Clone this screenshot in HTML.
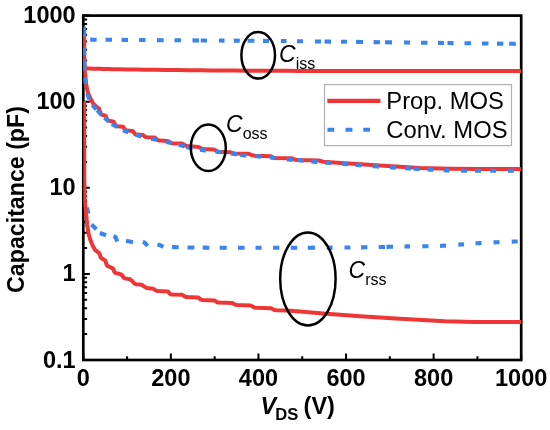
<!DOCTYPE html><html><head><meta charset="utf-8"><title>Capacitance vs VDS</title><style>html,body{margin:0;padding:0;background:#fff;overflow:hidden;}svg{display:block;}text{font-family:"Liberation Sans",Arial,Helvetica,sans-serif;fill:#000;}</style></head><body>
<svg width="550" height="430" viewBox="0 0 550 430">
<rect width="550" height="430" fill="#fff"/>
<defs><clipPath id="pc"><rect x="83.30" y="15.60" width="437.90" height="344.40"/></clipPath></defs>
<rect x="83.30" y="15.60" width="437.90" height="344.40" fill="none" stroke="#000" stroke-width="2.7"/>
<path d="M83.30,15.60h6.5 M83.30,101.70h6.5 M83.30,187.80h6.5 M83.30,273.90h6.5 M83.30,360.00h6.5 M83.30,334.08h3.8 M83.30,318.92h3.8 M83.30,308.16h3.8 M83.30,299.82h3.8 M83.30,293.00h3.8 M83.30,287.24h3.8 M83.30,282.24h3.8 M83.30,277.84h3.8 M83.30,247.98h3.8 M83.30,232.82h3.8 M83.30,222.06h3.8 M83.30,213.72h3.8 M83.30,206.90h3.8 M83.30,201.14h3.8 M83.30,196.14h3.8 M83.30,191.74h3.8 M83.30,161.88h3.8 M83.30,146.72h3.8 M83.30,135.96h3.8 M83.30,127.62h3.8 M83.30,120.80h3.8 M83.30,115.04h3.8 M83.30,110.04h3.8 M83.30,105.64h3.8 M83.30,75.78h3.8 M83.30,60.62h3.8 M83.30,49.86h3.8 M83.30,41.52h3.8 M83.30,34.70h3.8 M83.30,28.94h3.8 M83.30,23.94h3.8 M83.30,19.54h3.8 M83.30,360.00v-6.5 M170.88,360.00v-6.5 M258.46,360.00v-6.5 M346.04,360.00v-6.5 M433.62,360.00v-6.5 M521.20,360.00v-6.5 M127.09,360.00v-3.8 M214.67,360.00v-3.8 M302.25,360.00v-3.8 M389.83,360.00v-3.8 M477.41,360.00v-3.8" stroke="#000" stroke-width="2" fill="none"/>
<g clip-path="url(#pc)" fill="none" stroke-linejoin="round">
<path d="M84.10,34.00 84.10,36.13 84.10,39.11 84.09,42.66 84.09,46.54 84.09,50.47 84.11,54.20 84.14,57.46 84.20,60.00 84.27,61.86 84.34,63.31 84.43,64.42 84.53,65.26 84.65,65.91 84.80,66.44 84.98,66.91 85.20,67.40 85.26,67.83 85.09,68.10 84.83,68.25 84.66,68.31 84.73,68.31 85.20,68.31 86.24,68.32 88.00,68.40 90.27,68.52 92.82,68.63 95.75,68.74 99.17,68.85 103.20,68.96 107.94,69.07 113.50,69.18 120.00,69.30 127.57,69.42 136.16,69.55 145.61,69.69 155.75,69.82 166.43,69.95 177.47,70.08 188.71,70.19 200.00,70.30 211.41,70.40 223.12,70.49 235.16,70.58 247.50,70.66 260.16,70.73 273.12,70.79 286.41,70.85 300.00,70.90 314.17,70.94 329.03,70.96 344.35,70.98 359.91,70.99 375.48,70.99 390.83,70.99 405.75,71.00 420.00,71.00 434.27,71.00 449.05,71.01 463.88,71.01 478.25,71.01 491.68,71.00 503.70,71.00 513.80,71.00 521.50,71.00" stroke="#ef3636" stroke-width="4.00"/>
<path d="M84.10,34.00 84.20,62.00 84.60,70.00 85.30,76.00 86.20,84.00 87.60,92.00 89.70,96.90 91.70,100.90 93.70,104.20 96.60,107.00 99.00,108.60 100.60,113.60 102.20,114.80 105.50,115.60 107.30,119.50 108.70,120.60 113.60,121.80 115.60,125.20 117.20,126.20 123.00,126.80 125.50,129.90 127.00,130.40 132.70,130.90 135.30,134.20 136.80,134.60 142.70,134.90 145.50,137.00 147.00,137.30 154.70,137.60 158.00,140.30 159.50,140.60 167.80,140.90 171.10,143.00 172.60,143.30 182.50,143.60 185.80,145.70 187.50,146.00 198.60,146.90 202.30,148.90 204.00,149.10 213.90,149.40 217.50,151.60 219.20,151.80 229.90,152.20 233.50,153.30 235.00,153.50 248.80,153.80 253.20,155.60 255.00,155.80 270.80,156.30 273.70,157.80 275.50,158.00 291.90,158.30 295.50,159.80 297.50,160.00 318.80,160.50 323.20,161.70 345.00,163.20 380.00,165.50 420.00,168.00 450.00,168.70 480.00,168.90 521.50,168.90" stroke="#ef3636" stroke-width="4.00"/>
<path d="M87.0,207.5 L88.4,213.6 M91.5,224.5 L96.4,229.2 M99.8,233 L106,235.2 M113.5,236.2 L115.5,237 L117.2,241.5 M126,240.8 L133,242.2 M142.8,242 L144.5,242.5 L147.6,245.8 M157.4,244.6 L160,245.2 L163.4,246.8 M172.00,246.91 172.92,246.99 174.41,247.10 176.00,247.20 177.69,247.28 178.70,247.32 M187.50,247.50 189.15,247.51 191.24,247.53 193.38,247.54 194.40,247.55 M202.70,247.63 204.19,247.65 206.14,247.67 208.07,247.69 209.30,247.71 M219.70,247.78 222.62,247.79 226.08,247.79 226.70,247.80 M238.00,247.80 239.58,247.80 244.60,247.80 M255.50,247.79 257.34,247.78 261.60,247.78 M273.00,247.76 276.67,247.75 279.30,247.75 M290.80,247.72 294.74,247.71 297.20,247.71 M307.80,247.68 309.72,247.68 314.38,247.66 314.90,247.66 M326.70,247.63 327.50,247.62 331.60,247.61 332.60,247.61 M344.50,247.54 346.60,247.53 350.00,247.50 350.40,247.50 M361.00,247.37 361.59,247.36 364.07,247.32 366.44,247.27 367.40,247.26 M378.70,247.03 380.00,247.00 382.38,246.95 384.78,246.90 385.00,246.89 M386.50,246.86 387.17,246.85 389.56,246.79 391.92,246.73 393.00,246.71 M404.50,246.44 405.07,246.43 407.00,246.40 408.82,246.38 410.00,246.36 M422.30,246.34 423.53,246.32 425.00,246.30 426.50,246.27 428.00,246.24 428.50,246.22 M440.00,245.84 440.00,245.84 441.50,245.77 443.00,245.70 444.50,245.62 446.00,245.54 M458.30,244.70 459.54,244.61 461.00,244.50 462.45,244.39 463.88,244.28 464.00,244.27 M475.50,243.37 476.55,243.29 478.00,243.20 479.44,243.11 480.86,243.03 481.50,242.99 M493.50,242.41 494.23,242.38 496.00,242.30 497.94,242.22 499.50,242.15 M511.70,241.67 512.30,241.65 514.61,241.56 516.74,241.48 517.70,241.45" stroke="#3a84f0" stroke-width="4.10"/>
<path d="M84.20,101.00 84.30,180.00 84.70,200.00 85.40,208.00 86.20,215.00 87.10,224.30 88.50,233.60 90.40,240.10 92.70,245.70 95.00,249.90 97.30,251.70 99.20,253.30 100.20,255.60 100.80,257.80 103.60,259.40 105.40,260.60 106.40,264.30 107.60,266.20 110.50,267.20 113.20,268.80 114.60,272.30 115.90,273.20 119.50,273.80 121.80,275.00 123.60,277.60 125.00,278.40 130.00,279.20 132.60,281.40 134.40,283.60 136.00,284.20 141.80,284.80 144.40,286.60 146.40,287.90 153.00,288.70 155.60,290.40 157.60,291.00 168.10,291.60 170.30,294.20 172.00,294.50 182.30,294.80 185.50,296.90 187.20,297.10 198.10,297.40 200.80,299.60 202.50,300.00 214.40,300.40 217.30,302.40 219.00,302.60 231.80,302.90 235.50,304.80 237.20,305.00 250.70,305.40 254.40,307.50 256.20,307.80 271.10,308.30 274.70,310.10 276.50,310.30 287.00,310.60 300.00,311.60 320.00,313.20 360.00,316.20 400.00,318.70 445.00,321.30 475.00,322.00 521.50,322.10" stroke="#ef3636" stroke-width="4.00"/>
<path d="M84.1,26.7V36.4M84.1,47.5V55M84.2,60.2V70.6M84.7,77.5L85.6,84" stroke="#3a84f0" stroke-width="4.10"/>
<path d="M90.20,39.65 94.32,39.68 96.60,39.70 M105.60,39.77 109.90,39.80 112.00,39.82 M121.60,39.89 128.00,39.94 M139.00,40.02 139.23,40.02 145.40,40.07 M157.00,40.15 161.77,40.18 163.70,40.19 M174.50,40.27 174.94,40.27 181.00,40.31 M192.50,40.39 199.00,40.43 M200.80,40.44 203.67,40.46 207.00,40.48 M219.00,40.56 224.50,40.60 M233.80,40.67 239.80,40.71 M247.60,40.77 254.40,40.82 M263.00,40.89 268.60,40.94 269.00,40.95 M281.00,41.06 286.50,41.11 M297.00,41.22 303.00,41.29 M315.00,41.43 320.38,41.49 321.00,41.50 M324.50,41.54 330.00,41.60 331.00,41.61 M341.00,41.73 347.00,41.80 M356.00,41.91 361.93,41.98 363.00,42.00 M373.60,42.13 380.00,42.21 M385.00,42.27 392.00,42.36 M404.00,42.51 408.08,42.56 410.00,42.58 M421.00,42.71 427.50,42.79 M438.00,42.91 444.00,42.99 M447.50,43.03 453.60,43.10 M464.50,43.23 471.00,43.31 M482.00,43.43 488.50,43.51 M497.00,43.61 502.99,43.68 503.30,43.69 M509.20,43.76 513.59,43.81 515.80,43.83" stroke="#3a84f0" stroke-width="4.10"/>
<path d="M87.44,93.60 87.49,93.83 87.66,94.54 87.83,95.22 88.01,95.88 88.20,96.50 88.40,97.09 88.60,97.66 88.82,98.21 89.04,98.73 89.27,99.24 89.29,99.29 M92.47,104.83 92.52,104.90 92.79,105.27 93.06,105.64 93.35,106.02 93.65,106.40 93.97,106.79 94.30,107.20 94.64,107.61 94.99,108.01 95.35,108.42 95.72,108.82 96.10,109.22 96.30,109.44 M97.09,110.26 97.31,110.49 97.75,110.94 98.21,111.41 98.70,111.89 99.20,112.40 99.73,112.94 100.30,113.51 100.89,114.11 101.30,114.54 M104.48,117.68 104.75,117.94 105.41,118.55 106.06,119.14 106.70,119.70 107.32,120.23 107.93,120.74 108.53,121.23 109.01,121.62 M111.88,123.77 112.22,124.00 112.91,124.46 113.63,124.92 114.40,125.40 115.21,125.89 116.06,126.39 116.93,126.90 116.98,126.92 M122.97,130.06 123.68,130.40 124.69,130.86 125.70,131.30 126.71,131.72 127.73,132.13 128.48,132.42 M135.72,134.86 136.29,135.03 137.43,135.37 138.60,135.70 139.80,136.03 141.03,136.35 141.50,136.47 M151.07,138.65 151.43,138.73 152.73,139.02 154.00,139.30 155.27,139.58 156.54,139.86 156.93,139.94 M165.97,141.85 166.54,141.98 167.73,142.24 168.90,142.50 170.06,142.76 171.21,143.03 171.82,143.18 M178.79,144.87 178.89,144.89 179.87,145.14 180.81,145.37 181.70,145.60 182.51,145.81 183.24,146.02 183.89,146.21 184.49,146.39 184.58,146.42 M186.69,147.07 186.74,147.09 187.35,147.26 188.02,147.43 188.76,147.61 189.60,147.80 190.52,148.00 191.49,148.20 192.51,148.40 192.54,148.41 M200.03,149.75 200.58,149.84 201.79,150.02 203.00,150.20 204.22,150.37 205.48,150.52 205.98,150.58 M215.62,151.57 215.99,151.61 217.30,151.75 218.60,151.90 219.91,152.06 221.25,152.22 221.58,152.26 M231.03,153.50 231.79,153.60 232.93,153.75 234.00,153.90 234.97,154.04 235.84,154.17 236.62,154.30 236.96,154.36 M240.32,154.92 240.72,154.99 241.50,155.09 242.35,155.20 243.30,155.30 244.35,155.40 245.46,155.50 246.29,155.56 M255.21,156.17 255.67,156.20 256.95,156.30 258.20,156.40 259.42,156.50 260.62,156.61 261.19,156.66 M269.82,157.50 270.24,157.54 271.50,157.67 272.80,157.80 274.15,157.94 275.55,158.09 275.78,158.11 M286.71,159.30 287.20,159.35 288.49,159.48 289.70,159.60 290.81,159.70 291.83,159.78 292.69,159.85 M297.61,160.17 297.81,160.18 298.68,160.24 299.61,160.32 300.60,160.40 301.65,160.50 302.73,160.60 303.59,160.69 M311.41,161.52 312.07,161.58 313.24,161.70 314.40,161.80 315.54,161.90 316.67,161.99 317.39,162.04 M325.21,162.59 325.73,162.63 326.94,162.71 328.20,162.80 329.51,162.89 330.86,162.99 331.19,163.01 M342.01,163.78 342.35,163.80 343.70,163.90 345.00,164.00 346.23,164.09 347.41,164.19 347.99,164.23 M355.61,164.86 356.16,164.91 357.35,165.00 358.60,165.10 359.91,165.20 361.26,165.31 361.59,165.33 M372.81,166.19 372.89,166.19 374.36,166.30 375.80,166.40 377.24,166.50 378.69,166.60 378.79,166.60 M390.01,167.31 390.26,167.33 391.64,167.42 393.00,167.50 394.30,167.58 395.54,167.66 395.99,167.69 M405.00,168.23 405.09,168.23 406.49,168.32 408.00,168.40 409.63,168.49 411.00,168.57 M413.80,168.72 415.18,168.79 417.17,168.90 419.18,169.01 419.80,169.04 M427.50,169.44 428.83,169.51 430.50,169.60 432.06,169.68 433.50,169.76 M443.60,170.29 443.91,170.30 445.23,170.35 446.60,170.40 447.97,170.44 449.30,170.48 449.60,170.49 M461.10,170.67 462.23,170.68 464.10,170.70 466.12,170.72 467.10,170.72 M475.00,170.76 475.44,170.76 477.97,170.77 480.54,170.78 481.00,170.78 M490.20,170.79 490.77,170.80 493.20,170.80 495.68,170.80 496.20,170.80 M507.90,170.81 509.17,170.81 511.76,170.81 513.90,170.80" stroke="#3a84f0" stroke-width="4.10"/>
</g>
<text x="75.6" y="23.10" font-size="23.5" font-weight="bold" text-anchor="end">1000</text>
<text x="75.6" y="109.20" font-size="23.5" font-weight="bold" text-anchor="end">100</text>
<text x="75.6" y="195.30" font-size="23.5" font-weight="bold" text-anchor="end">10</text>
<text x="75.6" y="281.40" font-size="23.5" font-weight="bold" text-anchor="end">1</text>
<text x="75.6" y="367.50" font-size="23.5" font-weight="bold" text-anchor="end">0.1</text>
<text x="83.30" y="385.6" font-size="23.5" font-weight="bold" text-anchor="middle">0</text>
<text x="170.88" y="385.6" font-size="23.5" font-weight="bold" text-anchor="middle">200</text>
<text x="258.46" y="385.6" font-size="23.5" font-weight="bold" text-anchor="middle">400</text>
<text x="346.04" y="385.6" font-size="23.5" font-weight="bold" text-anchor="middle">600</text>
<text x="433.62" y="385.6" font-size="23.5" font-weight="bold" text-anchor="middle">800</text>
<text x="521.20" y="385.6" font-size="23.5" font-weight="bold" text-anchor="middle">1000</text>
<text transform="translate(23.7,199.5) rotate(-90)" font-size="23.2" font-weight="bold" text-anchor="middle">Capacitance (pF)</text>
<text x="260.5" y="413.8" font-size="23.5" font-weight="bold" font-style="italic">V</text>
<text x="275.2" y="420.4" font-size="16.6" font-weight="bold">DS</text>
<text x="303.6" y="413.8" font-size="23.5" font-weight="bold">(V)</text>
<rect x="324.5" y="84.6" width="187" height="61" fill="#fff" stroke="#b0b0b0" stroke-width="1.2"/>
<path d="M327.3,100.8H380.5" stroke="#ef3636" stroke-width="4.2"/>
<path d="M327.4,129.8H334.2M345.5,129.8H352.4M363.3,129.8H370" stroke="#3a84f0" stroke-width="4.1"/>
<text x="386.3" y="109" font-size="23.8">Prop. MOS</text>
<text x="386.3" y="137.6" font-size="23.8">Conv. MOS</text>
<ellipse cx="258.20" cy="55.20" rx="16.80" ry="23.30" fill="none" stroke="#000" stroke-width="2.5"/>
<ellipse cx="208.30" cy="147.70" rx="17.50" ry="23.30" fill="none" stroke="#000" stroke-width="2.5"/>
<ellipse cx="307.90" cy="278.90" rx="27.70" ry="46.50" fill="none" stroke="#000" stroke-width="2.5"/>
<text x="279.00" y="62.00" font-size="23"><tspan font-style="italic">C</tspan><tspan font-size="16" dy="6.6">iss</tspan></text>
<text x="226.00" y="132.30" font-size="23"><tspan font-style="italic">C</tspan><tspan font-size="16" dy="6.6">oss</tspan></text>
<text x="348.50" y="278.00" font-size="23"><tspan font-style="italic">C</tspan><tspan font-size="16" dy="6.6">rss</tspan></text>
</svg></body></html>
